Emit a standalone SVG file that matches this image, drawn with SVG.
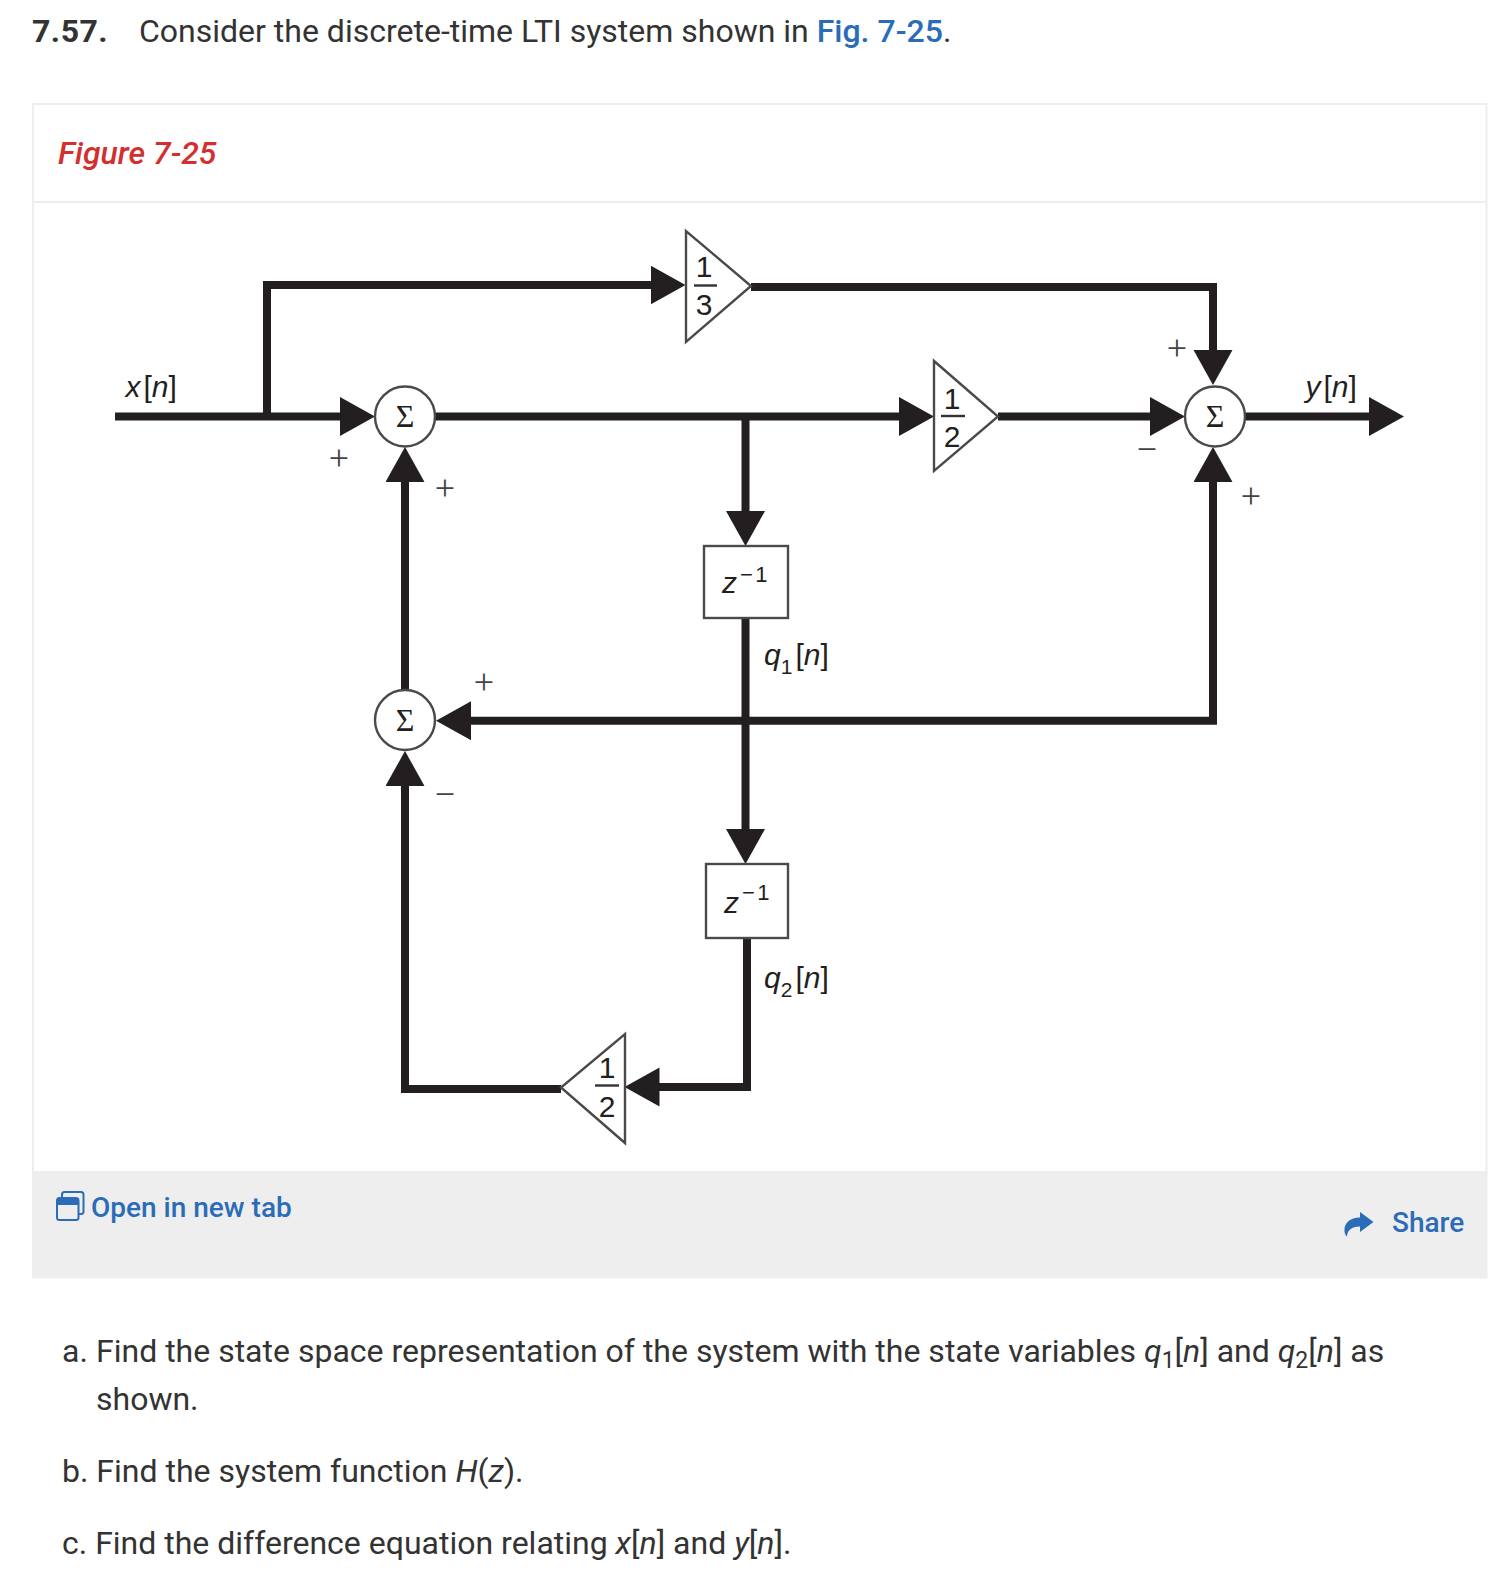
<svg xmlns="http://www.w3.org/2000/svg" width="1508" height="1584" viewBox="0 0 1508 1584">
<style>
.page{font-family:Roboto,"Liberation Sans",sans-serif;font-size:32px;fill:#333}
.link{fill:#2b6cb8;font-weight:500}
.ui{font-family:Roboto,"Liberation Sans",sans-serif;font-size:28px;fill:#2b6cb8;font-weight:500}
.l{font-family:"Liberation Sans",Arial,sans-serif;font-size:30px;fill:#231f20}
.sub{font-size:21px}
.sup{font-size:22px}
.frac{font-family:"Liberation Sans",Arial,sans-serif;font-size:30px;fill:#231f20;text-anchor:middle}
.sig{font-family:"Liberation Serif","Times New Roman",serif;font-size:32px;fill:#231f20;text-anchor:middle}
.sign{font-family:"Liberation Serif","Times New Roman",serif;font-size:36px;fill:#444;text-anchor:middle}
.arr{fill:none;stroke:#231f20;stroke-width:8;marker-end:url(#ah)}
.blk{fill:#fff;stroke:#4a4a4a;stroke-width:2.4}
.bar{stroke:#333;stroke-width:2.4}
.it{font-style:italic}
</style>
<defs>
<marker id="ah" markerUnits="userSpaceOnUse" markerWidth="38" markerHeight="40" refX="1" refY="19.5" orient="auto"><path d="M0 0L35 19.5L0 39Z" fill="#231f20"/></marker>
</defs>
<rect width="1508" height="1584" fill="#fff"/>
<g id="panel">
<rect x="33" y="104" width="1453.5" height="1068" fill="#fff" stroke="#eee" stroke-width="2"/>
<line x1="33" y1="202" x2="1486.5" y2="202" stroke="#eee" stroke-width="2"/>
<rect x="32" y="1171" width="1455.5" height="107.5" fill="#eee"/>
</g>
<g id="heading">
<text class="page" x="32" y="41.5" style="font-weight:700;letter-spacing:.5px">7.57.</text>
<text class="page" x="139" y="41.5">Consider the discrete-time LTI system shown in <tspan class="link">Fig. 7-25</tspan>.</text>
<text x="58" y="163.5" style="font-family:Roboto,'Liberation Sans',sans-serif;font-size:32px;font-style:italic;font-weight:500;fill:#d32f2f">Figure 7-25</text>
</g>
<g id="connectors">
<path class="arr" d="M115 416.5H341"/>
<path class="arr" d="M267 416.5V285H651.5"/>
<path class="arr" d="M751 287H1213V351"/>
<path class="arr" d="M435 416.5H900"/>
<path class="arr" d="M745.5 416.5V512"/>
<path class="arr" d="M998 416.5H1151"/>
<path class="arr" d="M1244 416.5H1370"/>
<path class="arr" d="M745.5 618V830"/>
<path class="arr" d="M745.5 720.7H470"/>
<path class="arr" d="M745.5 720.7H1213V481"/>
<path class="arr" d="M405 690V481"/>
<path class="arr" d="M747 938V1087H658.5"/>
<path class="arr" d="M561 1089H405V785"/>
</g>
<g id="label-x"><text class="l" x="125.5" y="397"><tspan class="it">x</tspan><tspan dx="3">[</tspan><tspan class="it">n</tspan>]</text></g>
<g id="sum1"><circle class="blk" cx="405" cy="416.5" r="30"/><text class="sig" x="405" y="427">Σ</text>
<text class="sign" x="339" y="470">+</text><text class="sign" x="445" y="500">+</text></g>
<g id="gain-third"><path class="blk" d="M686 231V342L751 286Z"/><text class="frac" x="704" y="277">1</text><line class="bar" x1="694" y1="285.5" x2="717" y2="285.5"/><text class="frac" x="704" y="315">3</text></g>
<g id="gain-half-top"><path class="blk" d="M934 361V471L998 416.5Z"/><text class="frac" x="952" y="409">1</text><line class="bar" x1="941" y1="416" x2="965" y2="416"/><text class="frac" x="952" y="447">2</text></g>
<g id="sum3"><circle class="blk" cx="1215" cy="416.5" r="30"/><text class="sig" x="1215" y="427">Σ</text>
<text class="sign" x="1177" y="360">+</text><text class="sign" x="1147" y="461">−</text><text class="sign" x="1251" y="508">+</text></g>
<g id="label-y"><text class="l" x="1305.5" y="397"><tspan class="it">y</tspan><tspan dx="3">[</tspan><tspan class="it">n</tspan>]</text></g>
<g id="delay1"><rect class="blk" x="704" y="546" width="84" height="72"/><text class="l it" x="722" y="592.5">z</text><text class="l sup" x="740" y="581.5"><tspan>−</tspan><tspan dx="2.5">1</tspan></text></g>
<g id="label-q1"><text class="l" x="764" y="665"><tspan class="it">q</tspan><tspan class="sub" dy="9">1</tspan><tspan dy="-9" dx="3">[</tspan><tspan class="it">n</tspan>]</text></g>
<g id="sum2"><circle class="blk" cx="405" cy="720" r="30"/><text class="sig" x="405" y="730.5">Σ</text>
<text class="sign" x="484" y="694">+</text><text class="sign" x="445" y="806">−</text></g>
<g id="delay2"><rect class="blk" x="706" y="864" width="82" height="74"/><text class="l it" x="724" y="912.5">z</text><text class="l sup" x="742" y="899.5"><tspan>−</tspan><tspan dx="2.5">1</tspan></text></g>
<g id="label-q2"><text class="l" x="764" y="988"><tspan class="it">q</tspan><tspan class="sub" dy="9">2</tspan><tspan dy="-9" dx="3">[</tspan><tspan class="it">n</tspan>]</text></g>
<g id="gain-half-bottom"><path class="blk" d="M625 1034V1143L561 1087.5Z"/><text class="frac" x="607" y="1078">1</text><line class="bar" x1="595" y1="1085.5" x2="619" y2="1085.5"/><text class="frac" x="607" y="1117">2</text></g>
<g id="actions">
<path d="M62 1197v-2.5a2.5 2.5 0 0 1 2.5-2.5h16.5a2.5 2.5 0 0 1 2.5 2.5v17a2.5 2.5 0 0 1-2.5 2.5h-2.5" fill="none" stroke="#2b6cb8" stroke-width="2"/>
<rect x="57" y="1198" width="21.5" height="22" rx="2.5" fill="#eee" stroke="#2b6cb8" stroke-width="2"/>
<path d="M57 1205v-4.5a2.5 2.5 0 0 1 2.5-2.5h16.5a2.5 2.5 0 0 1 2.5 2.5v4.5Z" fill="#2b6cb8"/>
<text class="ui" x="91" y="1216.5">Open in new tab</text>
<path d="M1373.5 1222L1360 1212V1217.5C1350 1217.5 1344 1223 1344.5 1231C1344.5 1233 1345.5 1235.5 1347 1236.7C1347 1231 1351 1226.5 1360 1226.5V1232Z" fill="#2b6cb8"/>
<text class="ui" x="1392" y="1231.5">Share</text>
</g>
<g id="questions">
<text class="page" x="62" y="1361.5">a.</text>
<text class="page" x="96" y="1361.5">Find the state space representation of the system with the state variables <tspan class="it">q</tspan><tspan font-size="23" dy="6">1</tspan><tspan dy="-6">[</tspan><tspan class="it">n</tspan>] and <tspan class="it">q</tspan><tspan font-size="23" dy="6">2</tspan><tspan dy="-6">[</tspan><tspan class="it">n</tspan>] as</text>
<text class="page" x="96" y="1410">shown.</text>
<text class="page" x="62" y="1482">b. Find the system function <tspan class="it">H</tspan>(<tspan class="it">z</tspan>).</text>
<text class="page" x="62" y="1554">c. Find the difference equation relating <tspan class="it">x</tspan>[<tspan class="it">n</tspan>] and <tspan class="it">y</tspan>[<tspan class="it">n</tspan>].</text>
</g>
</svg>
